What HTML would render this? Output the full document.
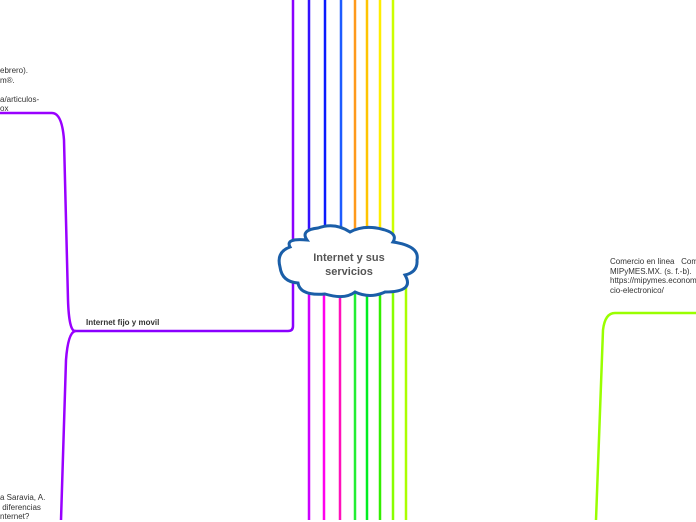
<!DOCTYPE html>
<html><head><style>
body{margin:0;width:696px;height:520px;overflow:hidden;background:#fff;position:relative;font-family:"Liberation Sans",sans-serif}
.t{position:absolute;font-size:8px;line-height:9.5px;color:#333;white-space:pre}
</style></head><body>
<svg width="696" height="520" style="position:absolute;left:0;top:0" fill="none" stroke-width="2.5" stroke-linecap="round">
<path d="M293 0 V326 Q293 331 288 331 H75" stroke="#8a00ff"/>
<path d="M75 331 Q69 331 68 300 L64 140 Q62 113 52 113 H0" stroke="#9900ff"/>
<path d="M75 331 Q68 333 66 360 L61 520" stroke="#9900ff"/>
<line x1="309" y1="0" x2="309" y2="240" stroke="#3311ff"/>
<line x1="325" y1="0" x2="325" y2="240" stroke="#0a1aff"/>
<line x1="341" y1="0" x2="341" y2="240" stroke="#1e5cff"/>
<line x1="355" y1="0" x2="355" y2="240" stroke="#ff9a1a"/>
<line x1="367" y1="0" x2="367" y2="240" stroke="#ffc400"/>
<line x1="380" y1="0" x2="380" y2="240" stroke="#ffee00"/>
<line x1="393" y1="0" x2="393" y2="240" stroke="#ccff00"/>
<line x1="309" y1="280" x2="309" y2="520" stroke="#cc00ff"/>
<line x1="324" y1="280" x2="324" y2="520" stroke="#ff00ee"/>
<line x1="340" y1="280" x2="340" y2="520" stroke="#ff11bb"/>
<line x1="355" y1="280" x2="355" y2="520" stroke="#22ee33"/>
<line x1="367" y1="280" x2="367" y2="520" stroke="#00ee22"/>
<line x1="380" y1="280" x2="380" y2="520" stroke="#33ee00"/>
<line x1="393" y1="280" x2="393" y2="520" stroke="#88ff00"/>
<line x1="406" y1="280" x2="406" y2="520" stroke="#aaff00"/>
<path d="M596 520 L603 330 Q605 313 615 313 H696" stroke="#99ff00"/>
<path d="M307 240 Q300 230 318 228 Q335 222 350 232 Q365 224 385 230 Q398 234 393 242 Q420 246 417 260 Q418 272 405 275 Q415 292 385 292 Q370 299 355 292 Q345 300 325 294 Q300 296 298 283 Q282 282 280 267 Q276 252 290 247 Q285 238 307 240 Z" fill="#fff" stroke="#1a5ea8" stroke-width="3"/>
</svg>
<div style="position:absolute;left:290px;top:251px;width:118px;text-align:center;font-size:11px;font-weight:bold;color:#555;line-height:14px">Internet y sus<br>servicios</div>
<div class="t" style="left:86px;top:318px;font-weight:bold;font-size:8px;color:#333">Internet fijo y movil</div>
<div class="t" style="left:0;top:66px">ebrero).
m®.

a/articulos-
ox</div>
<div class="t" style="left:610px;top:257px">Comercio en linea   Com
MIPyMES.MX. (s. f.-b).
https://mipymes.econom
cio-electronico/</div>
<div class="t" style="left:0;top:493px">a Saravia, A.
 diferencias
nternet?</div>
</body></html>
